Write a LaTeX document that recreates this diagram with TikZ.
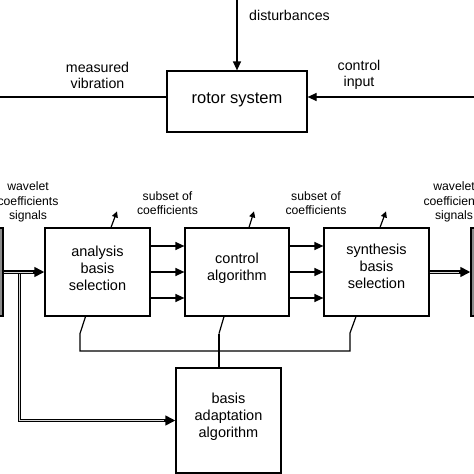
\documentclass[tikz,border=0pt]{standalone}
\usepackage{fontspec}
\setmainfont{Liberation Sans}
\usetikzlibrary{arrows.meta,calc}
\newcommand{\liftlines}[2]{\raisebox{#1}[\height][\depth]{\begin{tabular}{@{}c@{}}#2\end{tabular}}}
\begin{document}
\begin{tikzpicture}[x=1pt,y=-1pt,
  box/.style={draw,line width=1.2pt,inner sep=0pt,align=center,font=\fontsize{14.5}{17}\selectfont},
  lbl/.style={align=center,inner sep=0pt,font=\fontsize{14.2}{16}\selectfont},
  slbl/.style={align=center,inner sep=0pt,font=\fontsize{12.2}{14.5}\selectfont},
  conn/.style={line width=1.2pt},
  arr/.style={conn,-{Triangle[length=9pt,width=8pt]}},
  thickarr/.style={line width=3.6pt,-{Triangle[length=10pt,width=9.5pt]}},
  core/.style={line width=1pt,draw=white!85!black,shorten >=11pt},
  sw/.style={line width=1.2pt,-{Triangle[length=6pt,width=6pt]}},
  bar/.style={draw,line width=1.2pt,fill=black!45,minimum width=4pt,minimum height=88pt,inner sep=0pt}]
\useasboundingbox (0,0) rectangle (474,474);

\node[box,minimum width=140pt,minimum height=61pt,font=\fontsize{16.5}{19}\selectfont] (rotor) at (237,101.5) {\liftlines{2pt}{rotor system}};
\node[box,minimum width=105pt,minimum height=88pt] (ana) at (97.5,272) {\liftlines{2pt}{analysis\\basis\\selection}};
\node[box,minimum width=104pt,minimum height=88pt] (ctrl) at (237,272) {\liftlines{3pt}{control\\algorithm}};
\node[box,minimum width=105pt,minimum height=88pt] (syn) at (376.5,272) {\liftlines{3.5pt}{synthesis\\basis\\selection}};
\node[box,minimum width=105pt,minimum height=105pt] (adapt) at (228.5,420.5) {\liftlines{3pt}{basis\\adaptation\\algorithm}};
\node[bar] (lbar) at (1,272) {};
\node[bar] (rbar) at (473,272) {};

\coordinate (dtop) at (237,0);
\coordinate (lend) at (0,97);
\coordinate (rend) at (474,97);
\draw[arr] (dtop) -- (rotor.north);
\draw[conn] (lend) -- (lend -| rotor.west);
\draw[arr] (rend) -- (rend -| rotor.east);

\coordinate (j) at (19.5,272);
\draw[thickarr] (j) |- (adapt.west);
\draw[core] (j) |- (adapt.west);
\draw[thickarr] (lbar.east) -- (ana.west);
\draw[core] (lbar.east) -- (ana.west);
\draw[thickarr] (syn.east) -- (rbar.west);
\draw[core] (syn.east) -- (rbar.west);

\foreach \d in {26,0,-26} {
  \draw[arr] ([yshift=\d pt]ana.east) -- ([yshift=\d pt]ctrl.west);
  \draw[arr] ([yshift=\d pt]ctrl.east) -- ([yshift=\d pt]syn.west);
}

\draw[sw] ([xshift=13.5pt]ana.north) -- ++(6,-16);
\draw[sw] ([xshift=12pt]ctrl.north) -- ++(5,-16);
\draw[sw] ([xshift=3.5pt]syn.north) -- ++(6,-16);

\coordinate (b1) at (80,351);
\coordinate (b3) at (350,351);
\draw[conn,line join=miter] ([xshift=-12pt]ana.south) -- ++(-5.5,17) -- (b1) -- (b3) -- ++(0,-18) -- ([xshift=-20.5pt]syn.south);
\draw[conn] ([xshift=-13pt]ctrl.south) -- ++(-5,17) coordinate (c2);
\draw[conn] (c2) -- (c2 |- adapt.north);

\node[lbl] (dist) at (289.5,15) {disturbances};
\node[lbl] (mv) at (97.5,75) {measured\\vibration};
\node[lbl] (ci) at (359,75) {control\\input};
\node[slbl] (wl) at (28,202) {wavelet\\coefficients\\signals};
\node[slbl] (wr) at (454,202) {wavelet\\coefficients\\signals};
\node[slbl] (s1) at (167.5,203) {subset of\\coefficients};
\node[slbl] (s2) at (316,203) {subset of\\coefficients};
\end{tikzpicture}
\end{document}
